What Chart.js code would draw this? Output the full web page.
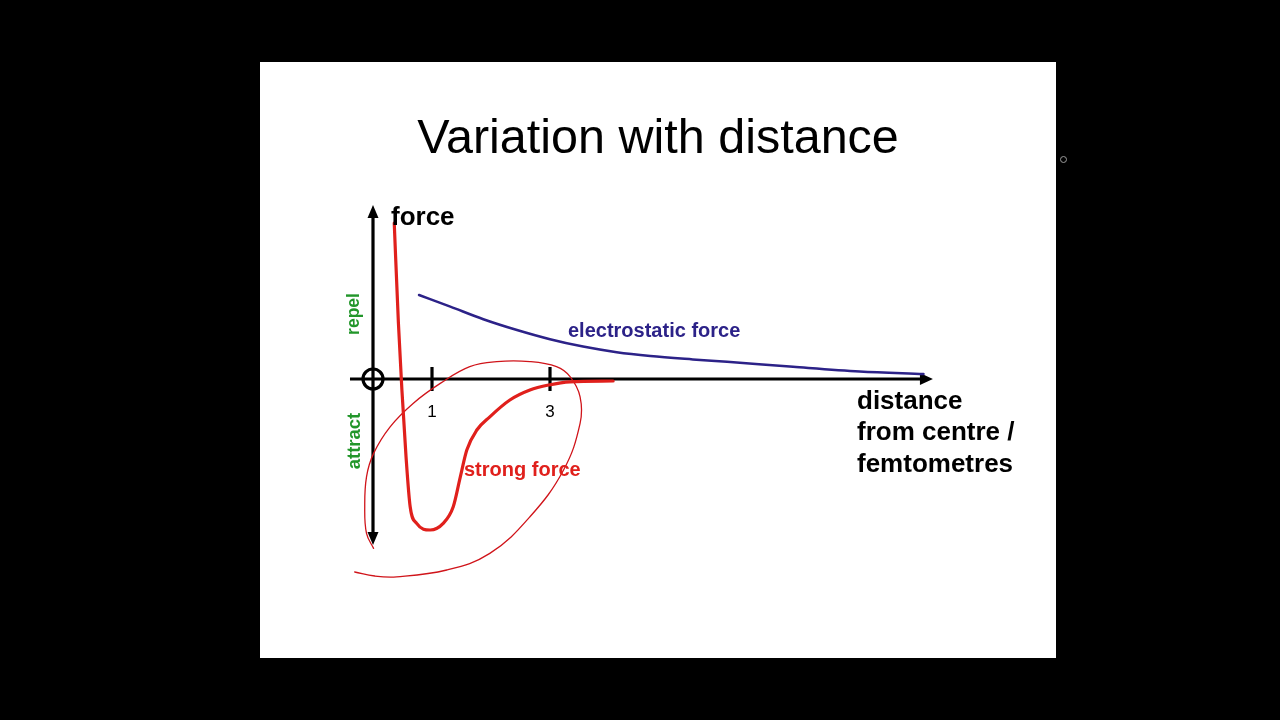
<!DOCTYPE html>
<html>
<head>
<meta charset="utf-8">
<script src="https://cdn.jsdelivr.net/npm/chart.js@4.4.1/dist/chart.umd.min.js"></script>
<style>
  html, body { margin:0; padding:0; background:#000; }
  body { width:1280px; height:720px; overflow:hidden; position:relative; font-family:"Liberation Sans", Arial, sans-serif; }
  .slide { position:absolute; left:260px; top:62px; width:796px; height:596px; background:#fff; }
  #c { position:absolute; left:0; top:0; }
  .lbl { position:absolute; white-space:nowrap; }
  .b { font-weight:bold; }
  .rot { transform:translate(-50%,-50%) rotate(-90deg); }
  .dot { position:absolute; left:1060px; top:156px; width:5px; height:5px; border:1.5px solid #9a9a9a; border-radius:50%; }
</style>
</head>
<body>
<div class="slide"></div>
<canvas id="c" width="1280" height="720"></canvas>
<div class="lbl" style="left:658px; top:112px; font-size:48.5px; line-height:48.5px; color:#000; transform:translateX(-50%);">Variation with distance</div>
<div class="lbl b" style="left:391px; top:203px; font-size:26px; line-height:26px; color:#000;">force</div>
<div class="lbl b" style="left:857px; top:387px; font-size:26px; line-height:26px; color:#000;">distance</div>
<div class="lbl b" style="left:857px; top:418px; font-size:26px; line-height:26px; color:#000;">from centre /</div>
<div class="lbl b" style="left:857px; top:449.5px; font-size:26px; line-height:26px; color:#000;">femtometres</div>
<div class="lbl b" style="left:568px; top:320px; font-size:20px; line-height:20px; color:#2c2288;">electrostatic force</div>
<div class="lbl b" style="left:464px; top:459px; font-size:20px; line-height:20px; color:#e0201c;">strong force</div>
<div class="lbl b rot" style="left:354px; top:314px; font-size:17.5px; line-height:17.5px; color:#22962a;">repel</div>
<div class="lbl b rot" style="left:354px; top:441px; font-size:18.5px; line-height:18.5px; color:#22962a;">attract</div>
<div class="dot"></div>
<script>
// ---- data (distance in femtometres, force in arbitrary units) ----
const distanceTicks = [1, 3];
const tickLabels = ['1', '3'];

const electroX = [0.78, 1.31, 1.87, 2.44, 3.00, 3.56, 4.13, 4.70, 5.42, 6.00, 7.12, 8.25, 9.33];
const electroY = [4.20, 3.62, 2.99, 2.45, 1.99, 1.62, 1.34, 1.15, 0.98, 0.86, 0.61, 0.38, 0.25];

const strongX = [0.36, 0.43, 0.49, 0.56, 0.63, 0.74, 0.97, 1.19, 1.36, 1.48, 1.59, 1.76, 1.98, 2.32, 2.66, 2.98, 3.34, 4.07];
const strongY = [7.80, 2.84, -0.55, -3.89, -6.39, -7.22, -7.55, -7.22, -6.39, -4.89, -3.55, -2.55, -1.89, -1.05, -0.55, -0.30, -0.14, -0.10];

// hand-drawn annotation loop around the strong-force well
const loopX = [-0.31, 0.03, 0.40, 1.25, 1.98, 2.66, 3.23, 3.51, 3.51, 3.34, 3.11, 2.66, 2.10, 1.64, 1.14, 0.68, 0.29, 0.01, -0.11, -0.14, -0.11, 0.01];
const loopY = [-9.65, -9.85, -9.89, -9.55, -8.72, -6.89, -4.55, -2.22, -0.89, 0.12, 0.62, 0.87, 0.87, 0.62, -0.22, -1.22, -2.39, -3.72, -4.89, -6.39, -7.72, -8.47];

const toPts = (xs, ys) => xs.map((v, i) => ({ x: v, y: ys[i] }));

const axesPlugin = {
  id: 'axesArrows',
  beforeDatasetsDraw(chart) {
    const { ctx, scales: { x, y } } = chart;
    const x0 = x.getPixelForValue(0);
    const y0 = y.getPixelForValue(0);
    ctx.save();
    ctx.strokeStyle = '#000';
    ctx.fillStyle = '#000';
    ctx.lineWidth = 3.2;
    // x axis
    const xa = x.getPixelForValue(-0.39), xb = x.getPixelForValue(9.49);
    ctx.beginPath(); ctx.moveTo(xa, y0); ctx.lineTo(xb - 8, y0); ctx.stroke();
    ctx.beginPath(); ctx.moveTo(xb, y0); ctx.lineTo(xb - 13, y0 - 6); ctx.lineTo(xb - 13, y0 + 6); ctx.closePath(); ctx.fill();
    // y axis (double arrow)
    const yt = y.getPixelForValue(8.7), yb = y.getPixelForValue(-8.3);
    ctx.beginPath(); ctx.moveTo(x0, yt + 8); ctx.lineTo(x0, yb - 8); ctx.stroke();
    ctx.beginPath(); ctx.moveTo(x0, yt); ctx.lineTo(x0 - 5.5, yt + 13); ctx.lineTo(x0 + 5.5, yt + 13); ctx.closePath(); ctx.fill();
    ctx.beginPath(); ctx.moveTo(x0, yb); ctx.lineTo(x0 - 5.5, yb - 13); ctx.lineTo(x0 + 5.5, yb - 13); ctx.closePath(); ctx.fill();
    // origin circle
    ctx.beginPath(); ctx.arc(x0, y0, 10, 0, Math.PI * 2); ctx.stroke();
    // ticks and labels
    ctx.font = '17px "Liberation Sans", Arial, sans-serif';
    ctx.textAlign = 'center';
    ctx.textBaseline = 'alphabetic';
    distanceTicks.forEach((t, i) => {
      const px = x.getPixelForValue(t);
      ctx.beginPath(); ctx.moveTo(px, y0 - 12); ctx.lineTo(px, y0 + 12); ctx.stroke();
      ctx.fillText(tickLabels[i], px, y0 + 38);
    });
    ctx.restore();
  }
};

new Chart(document.getElementById('c'), {
  type: 'scatter',
  data: {
    datasets: [
      {
        label: 'electrostatic force',
        data: toPts(electroX, electroY),
        showLine: true, borderColor: '#2c2288', borderWidth: 2.5,
        pointRadius: 0, cubicInterpolationMode: 'monotone', borderCapStyle: 'round'
      },
      {
        label: 'strong force',
        data: toPts(strongX, strongY),
        showLine: true, borderColor: '#e0201c', borderWidth: 3.2,
        pointRadius: 0, cubicInterpolationMode: 'monotone', borderCapStyle: 'round'
      },
      {
        label: 'annotation',
        data: toPts(loopX, loopY),
        showLine: true, borderColor: '#d0141a', borderWidth: 1.3,
        pointRadius: 0, tension: 0.4, borderCapStyle: 'round'
      }
    ]
  },
  options: {
    responsive: false,
    animation: false,
    devicePixelRatio: 1,
    layout: { padding: { left: 343.5, right: 346.5, top: 199, bottom: 121 } },
    plugins: { legend: { display: false }, tooltip: { enabled: false }, title: { display: false } },
    scales: {
      x: { type: 'linear', min: -0.5, max: 9.5, display: false },
      y: { type: 'linear', min: -11, max: 9, display: false }
    }
  },
  plugins: [axesPlugin]
});
</script>
</body>
</html>
